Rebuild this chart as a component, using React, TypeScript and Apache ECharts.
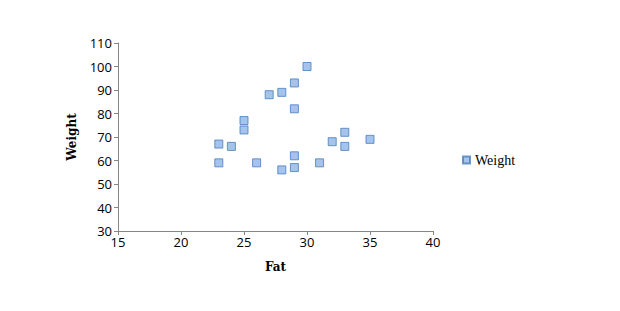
import React, { useEffect, useRef } from "react";
import * as echarts from "echarts";

const fat = [23, 23, 24, 25, 25, 26, 27, 28, 28, 29, 29, 29, 29, 30, 31, 32, 33, 33, 35];
const weight = [59, 67, 66, 77, 73, 59, 88, 89, 56, 93, 82, 62, 57, 100, 59, 68, 72, 66, 69];
const seriesName = "Weight";
const xName = "Fat";
const yName = "Weight";

export default function App() {
  const ref = useRef<HTMLDivElement>(null);
  useEffect(() => {
    if (!ref.current) return;
    const chart = echarts.init(ref.current, null, { renderer: "svg" });
    const data = fat.map((f, i) => [f, weight[i]]);
    chart.setOption({
      animation: false,
      backgroundColor: "#ffffff",
      grid: { left: 118, right: 187, top: 43, bottom: 80 },
      legend: {
        data: [seriesName],
        orient: "vertical",
        left: 457,
        top: 148,
        itemWidth: 7,
        itemHeight: 7,
        itemGap: 4,
        textStyle: { fontFamily: "Liberation Serif", fontSize: 14, color: "#000" },
      },
      xAxis: {
        type: "value",
        min: 15,
        max: 40,
        interval: 5,
        name: xName,
        nameLocation: "middle",
        nameGap: 30,
        nameTextStyle: { fontFamily: "DejaVu Serif", fontWeight: "bold", fontSize: 12, color: "#000" },
        axisLine: { show: true, lineStyle: { color: "#868686" } },
        axisTick: { show: true, inside: false, length: 4, lineStyle: { color: "#868686" } },
        splitLine: { show: false },
        axisLabel: { fontFamily: "Open Sans", fontSize: 13, color: "#000", margin: 4 },
      },
      yAxis: {
        type: "value",
        min: 30,
        max: 110,
        interval: 10,
        name: yName,
        nameLocation: "middle",
        nameGap: 40,
        nameTextStyle: { fontFamily: "DejaVu Serif", fontWeight: "bold", fontSize: 12, color: "#000" },
        axisLine: { show: true, lineStyle: { color: "#868686" } },
        axisTick: { show: true, inside: false, length: 4, lineStyle: { color: "#868686" } },
        splitLine: { show: false },
        axisLabel: { fontFamily: "Open Sans", fontSize: 13, color: "#000", margin: 6 },
      },
      series: [
        {
          name: seriesName,
          type: "scatter",
          symbol: "rect",
          symbolSize: 8,
          data,
          itemStyle: { color: "#8db4e8", borderColor: "#4a7ebb", borderWidth: 1 },
        },
      ],
    });
    return () => chart.dispose();
  }, []);
  return <div ref={ref} style={{ width: 620, height: 311, position: "absolute", left: 0, top: 0 }} />;
}
